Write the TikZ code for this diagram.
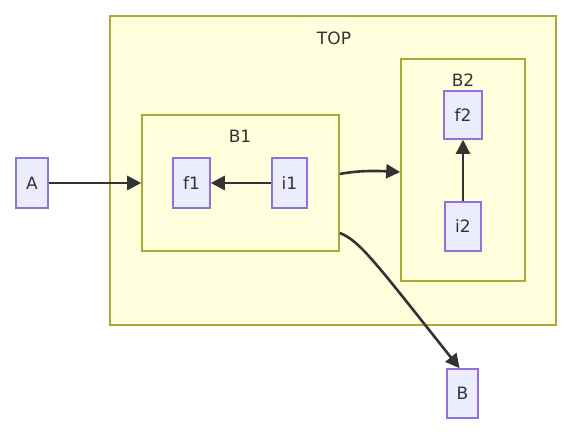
\documentclass[tikz,border=0pt]{standalone}
\usepackage{fontspec}
\setmainfont{DejaVu Sans}
\usetikzlibrary{arrows.meta}
\definecolor{clfill}{HTML}{FFFFDE}
\definecolor{clstroke}{HTML}{AAAA33}
\definecolor{ndfill}{HTML}{ECECFF}
\definecolor{ndstroke}{HTML}{9370DB}
\definecolor{edge}{HTML}{333333}
\definecolor{txt}{HTML}{333333}
\tikzset{
  cluster/.style={draw=clstroke, fill=clfill, line width=1.6pt, inner sep=0pt},
  box/.style={draw=ndstroke, fill=ndfill, line width=1.6pt, inner sep=0pt, font=\fontsize{17}{19}\selectfont, text=txt},
  lbl/.style={font=\fontsize{17}{19}\selectfont, text=txt, inner sep=0pt},
  conn/.style={draw=edge, line width=2.6pt, -{Triangle[length=14pt,width=14pt]}},
}
\begin{document}
\begin{tikzpicture}[x=1pt,y=-1pt]
\useasboundingbox (0,0) rectangle (586,436);
\node[cluster, minimum width=446pt, minimum height=309pt] (TOP) at (333,170.5) {};
\node[lbl] (TOPl) at (334,38) {TOP};
\node[cluster, minimum width=197pt, minimum height=136pt] (B1) at (240.5,183) {};
\node[lbl] (B1l) at (240,136) {B1};
\node[cluster, minimum width=124pt, minimum height=222pt] (B2) at (463,170) {};
\node[lbl] (B2l) at (463,80) {B2};
\node[box, minimum width=32pt, minimum height=50pt] (A) at (32,183) {A};
\node[box, minimum width=37pt, minimum height=50pt] (f1) at (191.5,183) {f1};
\node[box, minimum width=35pt, minimum height=50pt] (i1) at (289.5,183) {i1};
\node[box, minimum width=38pt, minimum height=48pt] (f2) at (463,115) {f2};
\node[box, minimum width=36pt, minimum height=49pt] (i2) at (463,226.5) {i2};
\node[box, minimum width=31pt, minimum height=49pt] (B) at (462.5,393.5) {B};
\draw[conn] (A.east) -- (B1.west);
\draw[conn] (i1.west) -- (f1.east);
\draw[conn] (i2.north) -- (f2.south);
\draw[conn] ([yshift=9pt]B1.east) .. controls (360,170) and (380,171) .. ([yshift=-2pt]B2.west);
\draw[conn] ([yshift=-50pt]B1.east) .. controls (360,241) and (375,262) .. ([xshift=-3pt]B.north);
\end{tikzpicture}
\end{document}
